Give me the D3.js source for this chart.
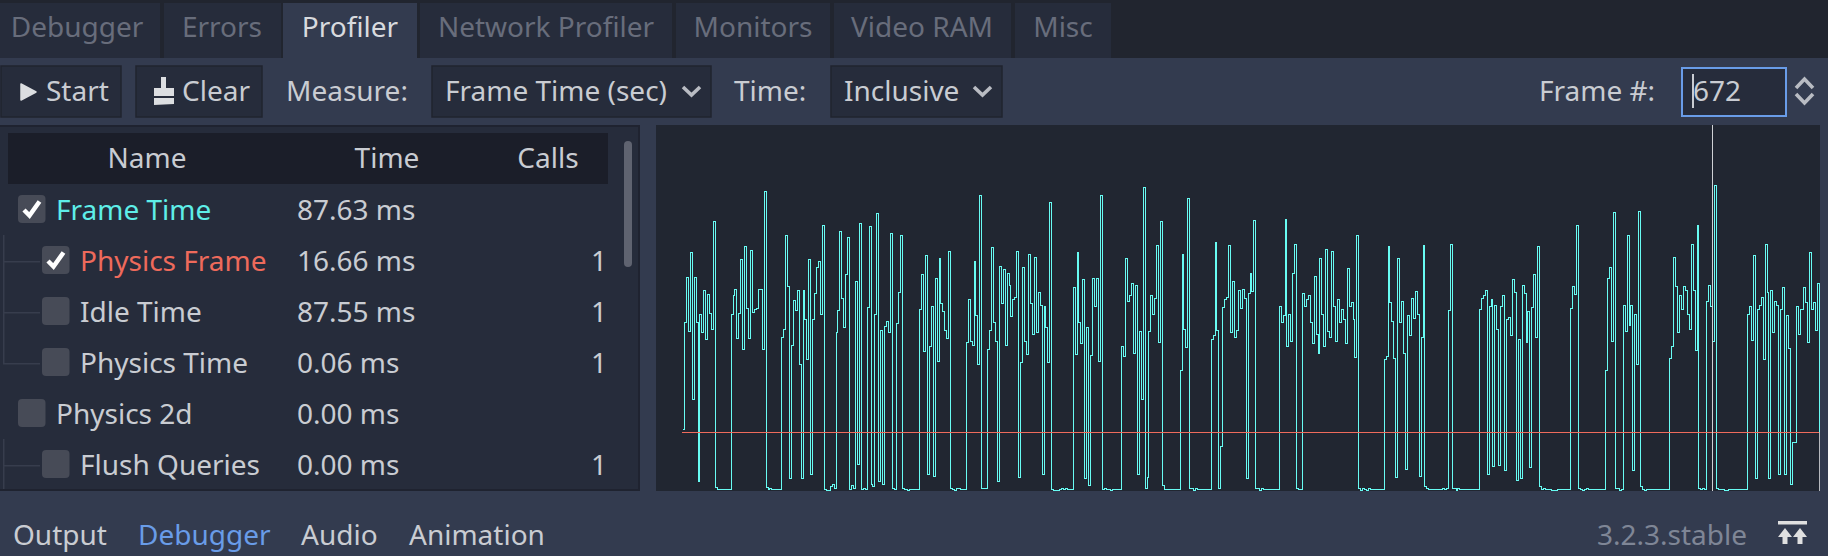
<!DOCTYPE html>
<html>
<head>
  <title>Profiler</title>
  <script src="https://d3js.org/d3.v7.min.js"></script>
  <style>
    body { margin: 0; background: #333b4f; overflow: hidden; }
    svg { display: block; }
    text { font-family: "Noto Sans", sans-serif; font-size: 28px; fill: #c9ccd2; }
    .check { fill: none; stroke: #fff; stroke-width: 4.5; }
    .chev { fill: none; stroke: #b9bcc3; stroke-width: 3.6; }
  </style>
</head>
<body>
  <svg id="chart" width="1828" height="556"></svg>
  <script>
    // frame time in ms
    const frameTime = [
      17.5,48.5,61.2,45.9,68.4,26.1,61.2,48.5,2.8,50.8,45.4,57.5,43.4,56.3,51.1,46.5,77.3,1.0,
      0.3,0.3,0.3,0.3,0.3,0.3,0.3,
      50.8,56.0,58.0,43.7,51.1,66.6,40.5,70.1,52.3,43.7,69.2,51.3,52.0,52.3,58.0,58.0,40.5,85.9,1.0,0.3,0.6,
      0.3,0.3,0.3,0.3,0.3,
      44.2,46.5,73.5,58.6,3.4,41.9,54.6,51.7,57.5,36.2,3.4,57.5,49.1,37.6,66.6,4.6,49.1,56.6,64.1,65.8,50.8,76.4,
      0.3,0.0,0.0,1.1,1.7,0.6,
      45.4,51.7,74.4,55.2,46.8,62.1,72.7,0.3,1.4,0.8,60.3,7.7,76.7,0.3,0.6,0.3,52.6,76.1,1.7,1.1,50.6,79.6,2.8,
      46.2,1.7,47.1,48.8,45.4,74.1,0.8,0.3,48.0,56.9,73.3,0.8,0.4,0.4,0.0,0.3,0.3,0.3,0.3,0.3,
      52.0,62.3,39.9,67.5,4.6,41.4,53.1,4.0,60.9,37.3,66.9,53.7,51.4,46.0,43.9,68.9,0.8,
      0.3,0.0,0.6,0.6,0.3,0.3,0.3,
      42.5,54.9,42.8,41.9,65.8,50.3,36.2,84.8,0.8,0.6,0.6,40.5,46.0,69.8,48.3,42.8,2.6,64.6,53.7,63.5,41.9,62.6,
      58.9,50.0,54.9,55.7,68.7,3.7,37.0,64.3,42.8,39.3,67.8,53.7,44.8,67.2,45.4,56.9,53.4,4.6,52.9,46.8,37.0,83.0,
      0.3,0.0,0.0,0.0,0.3,0.6,0.3,0.6,0.3,0.3,0.3,
      58.3,39.3,68.4,48.3,42.2,60.6,3.4,46.8,1.4,38.8,60.9,52.9,60.9,37.3,84.8,
      0.3,0.8,0.4,0.4,0.0,0.3,0.3,0.3,0.3,0.3,
      41.6,38.5,66.9,54.3,56.0,59.5,39.6,58.9,4.6,45.7,26.1,87.3,0.8,3.7,45.7,56.0,50.8,55.2,70.4,42.5,77.3,1.4,
      0.3,0.3,0.3,0.3,0.3,0.3,0.3,0.3,
      34.5,67.8,46.5,41.1,83.9,0.8,0.6,0.0,0.6,
      0.3,0.3,0.3,0.3,0.3,0.3,0.3,
      43.4,44.5,71.5,46.2,0.6,12.6,52.6,54.9,55.7,70.4,45.4,60.3,44.2,46.2,57.5,52.3,58.0,55.4,3.4,56.6,
      62.6,57.2,77.6,0.8,0.6,0.0,0.6,
      0.3,0.3,0.3,0.3,0.3,0.3,0.3,0.3,
      52.9,48.3,50.3,77.9,41.6,50.8,42.8,62.6,70.9,0.6,0.3,0.3,
      56.6,53.1,54.9,56.0,48.5,42.2,61.5,44.8,39.6,66.9,50.6,41.4,69.5,45.7,44.2,68.9,53.1,42.8,54.9,48.5,52.0,
      49.1,42.2,63.8,53.1,54.0,49.1,38.2,73.5,0.6,0.0,0.6,0.4,0.0,0.6,
      0.3,0.3,0.3,0.3,0.3,0.3,0.3,
      37.6,38.5,70.1,54.0,48.8,37.9,3.7,66.9,48.3,54.3,39.6,6.0,50.3,44.5,55.2,49.4,57.2,50.6,4.0,44.2,70.4,1.1,0.6,
      0.3,0.3,0.3,0.3,0.3,0.3,0.3,
      0.6,0.3,0.6,51.7,70.7,0.8,0.6,0.0,0.6,
      0.3,0.3,0.3,0.3,0.3,0.3,0.3,0.3,0.3,0.3,
      52.0,55.2,56.0,57.5,4.6,52.9,54.9,6.9,53.4,46.5,7.2,52.9,56.0,5.7,49.1,49.7,44.5,60.6,56.9,3.1,43.4,3.4,
      58.9,56.6,42.5,51.4,6.6,52.6,62.1,44.2,70.1,1.1,
      0.4,0.6,0.3,0.3,0.3,0.2,0.2,0.2,0.3,0.3,0.3,0.3,0.3,0.3,0.3,
      52.3,58.6,56.3,76.4,0.8,0.4,0.1,0.4,0.6,
      0.3,0.3,0.3,0.3,0.3,0.3,0.3,0.3,0.3,
      34.5,60.9,64.3,42.8,79.9,0.6,0.8,0.1,0.4,53.4,45.7,73.5,47.4,53.4,5.7,50.6,36.2,80.2,1.1,0.4,0.1,
      0.3,0.3,0.3,0.3,0.3,0.3,0.3,0.3,0.3,0.3,0.3,0.3,
      37.9,41.6,67.2,58.6,45.4,56.0,52.0,58.6,57.5,50.6,46.5,70.9,57.7,40.2,76.4,0.8,0.4,0.6,0.3,
      54.3,58.9,52.9,42.8,87.63,0.6,0.4,0.4,0.3,0.1,0.1,
      0.3,0.3,0.3,0.3,0.3,0.3,0.4,0.4,0.4,0.3,
      50.8,52.9,43.1,67.5,3.4,52.0,53.4,55.7,37.6,70.7,56.9,3.4,57.5,45.4,54.3,53.4,4.6,52.0,58.3,4.6,50.3,40.8,
      1.7,14.0,14.0,53.1,44.8,52.0,52.0,58.3,54.0,42.5,68.4,52.0,54.0,46.2,59.5
    ];
    const physicsFrame = 16.66;
    const selectedFrame = 672;

    const tabs = ["Debugger", "Errors", "Profiler", "Network Profiler", "Monitors", "Video RAM", "Misc"];
    const tabEdges = [[0, 160], [164, 281], [283, 417], [420, 672], [676, 830], [834, 1011], [1015, 1111]];
    const tabTextX = [77, 222, 350, 546, 753, 922, 1063];
    const bottomTabs = ["Output", "Debugger", "Audio", "Animation"];
    const bottomX = [13, 138, 301, 409];
    const rowNames = ["Frame Time", "Physics Frame", "Idle Time", "Physics Time", "Physics 2d", "Flush Queries"];
    const rowTimes = ["87.63 ms", "16.66 ms", "87.55 ms", "0.06 ms", "0.00 ms", "0.00 ms"];
    const rowCalls = ["", "1", "1", "1", "", "1"];
    const rowDepth = [0, 1, 1, 1, 0, 1];
    const rowChecked = [true, true, false, false, false, false];
    const rowColor = ["#5eeee8", "#ee6a5b", "#c9ccd2", "#c9ccd2", "#c9ccd2", "#c9ccd2"];

    const svg = d3.select("#chart");

    function rect(x, y, w, h, fill, rx) {
      return svg.append("rect").attr("x", x).attr("y", y).attr("width", w).attr("height", h)
        .attr("fill", fill).attr("rx", rx || 0);
    }
    function label(x, y, s, fill, anchor) {
      return svg.append("text").attr("x", x).attr("y", y).text(s)
        .style("fill", fill || "#c9ccd2").attr("text-anchor", anchor || "start");
    }

    // top tabs
    rect(0, 0, 1828, 58, "#21252f");
    tabs.forEach((t, i) => {
      const active = t === "Profiler";
      const e = tabEdges[i];
      rect(e[0], 3, e[1] - e[0], 55, active ? "#333b4f" : "#262c3b");
      label(tabTextX[i], 37, t, active ? "#d8dade" : "#686d7b", "middle");
    });

    // toolbar
    const panels = [[1, 120], [136, 126], [432, 279], [831, 171]];
    panels.forEach(p => {
      rect(p[0], 66, p[1], 51, "#262c3b").attr("stroke", "#20242f").attr("stroke-width", 1.5);
    });
    svg.append("path").attr("d", "M21,84L36,92L21,100Z").attr("fill", "#dcdee1")
      .attr("stroke", "#dcdee1").attr("stroke-width", 1.5).attr("stroke-linejoin", "round");
    svg.append("path").attr("d", "M161,77h5v11h8v8h-20v-8h7zM154,98h20v6l-20,1z").attr("fill", "#dcdee1");
    label(46, 101, "Start");
    label(182, 101, "Clear");
    label(286, 101, "Measure:");
    label(445, 101, "Frame Time (sec)");
    label(734, 101, "Time:");
    label(844, 101, "Inclusive");
    svg.append("path").attr("class", "chev").attr("d", "M683,87l8.5,8l8.5,-8");
    svg.append("path").attr("class", "chev").attr("d", "M974,87l8.5,8l8.5,-8");
    label(1539, 101, "Frame #:");
    rect(1682, 68, 104, 48, "#262c3b").attr("stroke", "#699ce8").attr("stroke-width", 2);
    label(1693, 101, selectedFrame);
    rect(1692, 74, 2, 34, "#c9ccd2");
    svg.append("path").attr("class", "chev").attr("d", "M1796,88l8.5,-9l8.5,9M1796,94l8.5,9l8.5,-9");

    // profiler tree
    rect(0, 125, 640, 366, "#1f2330");
    rect(0, 127, 638, 362, "#262c3b");
    rect(8, 133, 600, 51, "#1b1e29");
    label(147, 168, "Name", null, "middle");
    label(387, 168, "Time", null, "middle");
    label(548, 168, "Calls", null, "middle");
    rect(624, 141, 8, 126, "#5f6370", 4);
    rect(3, 235, 1.5, 128, "#373d4d");
    rect(3, 439, 1.5, 50, "#373d4d");

    const rowY = d3.scalePoint().domain(d3.range(rowNames.length)).range([219, 474]);
    rowNames.forEach((name, i) => {
      const y = rowY(i);
      const boxX = rowDepth[i] ? 42 : 18;
      if (rowDepth[i]) rect(3, y - 9, 37, 1.5, "#373d4d");
      rect(boxX, y - 24, 27.5, 28, "#474b57", 4);
      if (rowChecked[i]) {
        svg.append("path").attr("class", "check").attr("d", `M${boxX + 6},${y - 9}l5.5,5.5l10,-14`);
      }
      label(boxX + 38, y + 1, name, rowColor[i]);
      label(297, y + 1, rowTimes[i]);
      label(607, y + 1, rowCalls[i], null, "end");
    });

    // graph
    rect(656, 125, 1164, 366, "#212631");
    const x = d3.scaleLinear().domain([0, frameTime.length]).range([682, 1819]);
    const y = d3.scaleLinear().domain([0, 105]).range([490.3, 125]);

    const cursorIndex = frameTime.indexOf(87.63);
    const firstFrame = selectedFrame - cursorIndex;
    const cursorX = Math.round(x(selectedFrame - firstFrame)) - 2;

    const stepLine = d3.line()
      .curve(d3.curveStepAfter)
      .x(d => Math.round(x(d[0])) + 0.5)
      .y(d => Math.round(y(d[1])) + 0.5);

    const points = frameTime.map((v, i) => [i, v]);
    points.push([frameTime.length, frameTime[frameTime.length - 1]]);

    svg.append("path")
      .attr("d", stepLine(points))
      .attr("fill", "none").attr("stroke", "#68fbf3").attr("stroke-width", 1)
      .attr("shape-rendering", "crispEdges");

    // last frame drops to the bottom of the graph
    const lastX = Math.round(x(frameTime.length)) + 0.5;
    svg.append("line").attr("x1", lastX).attr("x2", lastX)
      .attr("y1", y(frameTime[frameTime.length - 1])).attr("y2", y(physicsFrame))
      .attr("stroke", "#68fbf3").attr("shape-rendering", "crispEdges");
    svg.append("line").attr("x1", lastX).attr("x2", lastX)
      .attr("y1", y(physicsFrame)).attr("y2", 491)
      .attr("stroke", "#b5b8bd").attr("shape-rendering", "crispEdges");

    svg.append("line").attr("x1", x(0)).attr("x2", x(frameTime.length))
      .attr("y1", Math.round(y(physicsFrame)) + 0.5).attr("y2", Math.round(y(physicsFrame)) + 0.5)
      .attr("stroke", "#ef6b5c").attr("shape-rendering", "crispEdges");

    svg.append("line").attr("x1", cursorX + 0.5).attr("x2", cursorX + 0.5).attr("y1", 125).attr("y2", 491)
      .attr("stroke", "#cfd1d5").attr("shape-rendering", "crispEdges");

    // bottom bar
    bottomTabs.forEach((t, i) => {
      label(bottomX[i], 545, t, t === "Debugger" ? "#699ce8" : "#c9ccd2");
    });
    label(1597, 545, "3.2.3.stable", "#7f8696");
    rect(1778, 521, 29, 3.5, "#e0e0e0");
    svg.append("path").attr("fill", "#e0e0e0")
      .attr("d", "M1785,528l7,9h-4.5v7h-5v-7h-4.5zM1800,528l7,9h-4.5v7h-5v-7h-4.5z");
  </script>
</body>
</html>
